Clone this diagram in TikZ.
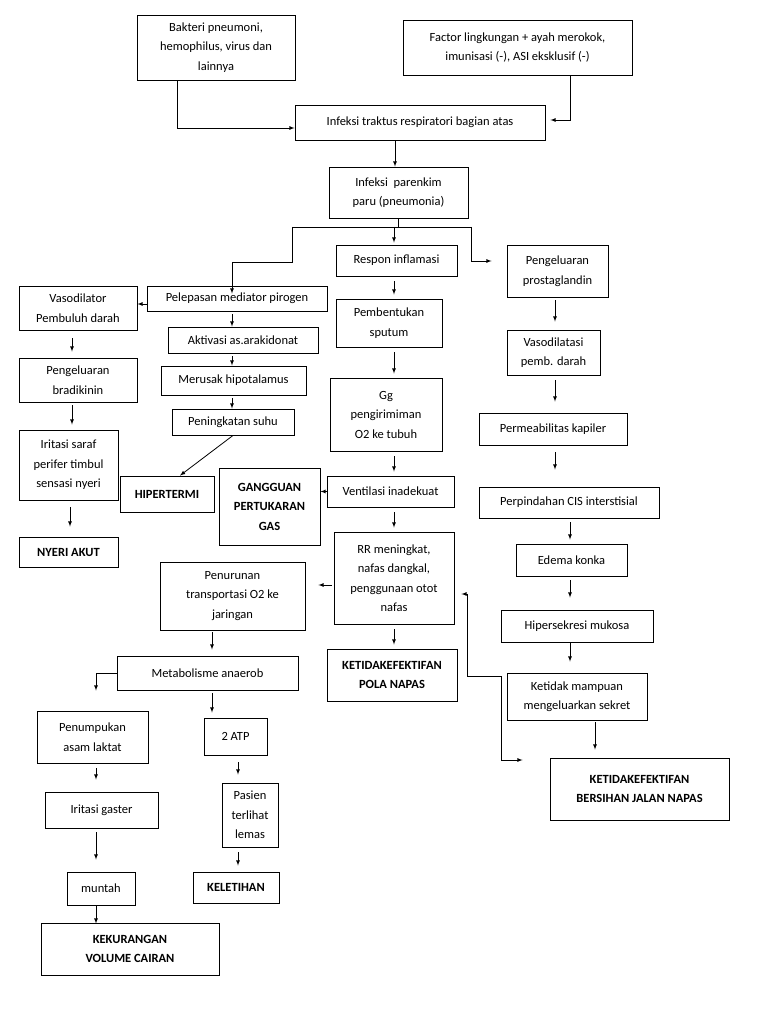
\documentclass[tikz,border=0pt]{standalone}
\usepackage{fontspec}
\setmainfont{Carlito}
\begin{document}
\begin{tikzpicture}[x=1pt,y=-1pt,
  box/.style={draw,line width=0.9pt,align=center,inner sep=1pt,font=\fontsize{12.5}{19.5}\selectfont},
  bb/.style={box,font=\bfseries\fontsize{12.5}{19.5}\selectfont},
  arr/.style={-latex,line width=0.8pt},
  ln/.style={line width=0.8pt}]
\useasboundingbox (0,0) rectangle (768,1024);
\newcommand\bx[7][box]{\node[#1,minimum width={#5pt-#3pt},minimum height={#6pt-#4pt}] (#2) at ({(#3+#5)/2},{(#4+#6)/2}) {#7};}
\bx{bak}{137}{15}{295}{80}{Bakteri pneumoni,\\hemophilus, virus dan\\lainnya}
\bx{fac}{403}{20}{632}{75}{Factor lingkungan + ayah merokok,\\imunisasi (-), ASI eksklusif (-)}
\bx{inf}{295}{105}{545}{140}{Infeksi traktus respiratori bagian atas}
\bx{par}{329}{167}{468}{218}{Infeksi\ \ parenkim\\paru (pneumonia)}
\bx{res}{336}{245}{457}{276}{Respon inflamasi}
\bx{pro}{507}{245}{608}{297}{Pengeluaran\\prostaglandin}
\bx{pel}{147}{286}{327}{311}{Pelepasan mediator pirogen}
\bx{vas}{19}{286}{137}{330}{Vasodilator\\Pembuluh darah}
\bx{akt}{168}{327}{318}{353}{Aktivasi as.arakidonat}
\bx{mer}{161}{366}{306}{395}{Merusak hipotalamus}
\bx{pen}{172}{409}{294}{435}{Peningkatan suhu}
\bx{pem}{336}{299}{442}{347}{Pembentukan\\sputum}
\bx{gg}{330}{378}{442}{451}{Gg\\pengirimiman\\O2 ke tubuh}
\bx{vdt}{507}{330}{600}{375}{Vasodilatasi\\pemb. darah}
\bx{per}{479}{413}{627}{445}{Permeabilitas kapiler}
\bx{bra}{19}{358}{137}{402}{Pengeluaran\\bradikinin}
\bx{iri}{19}{430}{118}{500}{Iritasi saraf\\perifer timbul\\sensasi nyeri}
\bx[bb]{hip}{120}{476}{214}{512}{HIPERTERMI}
\bx[bb]{gan}{219}{468}{320}{545}{GANGGUAN\\PERTUKARAN\\GAS}
\bx{ven}{327}{476}{454}{507}{Ventilasi inadekuat}
\bx{pin}{479}{487}{659}{518}{Perpindahan CIS interstisial}
\bx[bb]{nye}{19}{537}{118}{567}{NYERI AKUT}
\bx{rr}{334}{532}{454}{624}{RR meningkat,\\nafas dangkal,\\penggunaan otot\\nafas}
\bx{ede}{516}{544}{627}{576}{Edema konka}
\bx{pnr}{160}{562}{305}{630}{Penurunan\\transportasi O2 ke\\jaringan}
\bx{hps}{501}{610}{653}{642}{Hipersekresi mukosa}
\bx[bb]{pol}{327}{649}{457}{701}{KETIDAKEFEKTIFAN\\POLA NAPAS}
\bx{ktm}{507}{673}{647}{720}{Ketidak mampuan\\mengeluarkan sekret}
\bx{met}{117}{656}{298}{690}{Metabolisme anaerob}
\bx[bb]{ber}{550}{758}{729}{820}{KETIDAKEFEKTIFAN\\BERSIHAN JALAN NAPAS}
\bx{pnm}{37}{711}{148}{763}{Penumpukan\\asam laktat}
\bx{atp}{204}{718}{267}{755}{2 ATP}
\bx{gas}{45}{792}{158}{828}{Iritasi gaster}
\bx{pas}{222}{783}{278}{847}{Pasien\\terlihat\\lemas}
\bx{mun}{67}{872}{135}{905}{muntah}
\bx[bb]{kel}{193}{872}{279}{903}{KELETIHAN}
\bx[bb]{kek}{41}{923}{219}{975}{KEKURANGAN\\VOLUME CAIRAN}
% top
\draw[arr] (bak.south -| 177,0) |- (inf.west |- 0,128);
\draw[arr] (fac.south -| 570,0) |- ([xshift=5pt]inf.east |- 0,120);
\draw[arr] (inf.south -| 395,0) -- (par.north -| 395,0);
\coordinate (sp) at (398,227);
\draw[ln] (par.south -| 398,0) -- (sp);
\draw[arr] (292,227) -- (292,262) -| ([yshift=-8pt]pel.north -| 232,0);
\draw[ln] (292,227) -- (471,227);
\draw[arr,shorten >=2pt] (394,227) -- (res.north -| 394,0);
\draw[arr] (471,227) |- ([xshift=-15pt]pro.west |- 0,261);
% centre column
\foreach \a/\b in {res/pem,pem/gg,gg/ven,ven/rr,rr/pol}
  \draw[arr,shorten <=5pt,shorten >=4pt] (\a.south -| 394,0) -- (\b.north -| 394,0);
\draw[arr] (ven.west) -- (gan.east |- ven.west);
\draw[arr,shorten <=2pt,shorten >=13pt] (rr.west |- 0,585) -- (pnr.east |- 0,585);
% left pirogen chain
\draw[arr] (pel.west |- 0,304) -- (vas.east |- 0,304);
\foreach \a/\b in {pel/akt,akt/mer,mer/pen}
  \draw[arr,shorten <=3pt] (\a.south -| 232,0) -- (\b.north -| 232,0);
\draw[arr] (pen.south) -- (hip.north -| 180,0);
\draw[arr,shorten <=8pt,shorten >=6pt] (vas.south -| 72,0) -- (bra.north -| 72,0);
\draw[arr,shorten <=3pt,shorten >=5pt] (bra.south -| 72,0) -- (iri.north -| 72,0);
\draw[arr,shorten <=7pt,shorten >=10pt] (iri.south -| 70,0) -- (nye.north -| 70,0);
% right chain
\draw[arr,shorten <=3pt,shorten >=8pt] (pro.south -| 555,0) -- (vdt.north -| 555,0);
\draw[arr,shorten <=5pt,shorten >=11pt] (vdt.south -| 555,0) -- (per.north -| 555,0);
\draw[arr,shorten <=7pt,shorten >=17pt] (per.south -| 555,0) -- (pin.north -| 555,0);
\draw[arr,shorten <=4pt,shorten >=4pt] (pin.south -| 570,0) -- (ede.north -| 570,0);
\draw[arr,shorten <=4pt,shorten >=12pt] (ede.south -| 570,0) -- (hps.north -| 570,0);
\draw[arr,shorten <=1pt,shorten >=11pt] (hps.south -| 570,0) -- (ktm.north -| 570,0);
\draw[arr,shorten <=2pt,shorten >=8pt] (ktm.south -| 595,0) -- (ber.north -| 595,0);
\coordinate (b1) at (467,676);
\coordinate (b2) at (501,676);
\draw[latex-latex,line width=0.8pt,shorten <=7pt,shorten >=27pt] (rr.east |- 0,594) -| (b1) -- (b2) |- (ber.west |- 0,760);
% bottom left
\draw[arr,shorten <=2pt,shorten >=6pt] (pnr.south -| 212,0) -- (met.north -| 212,0);
\draw[arr,shorten >=20pt] (met.west |- 0,673) -| (pnm.north -| 96,0);
\draw[arr,shorten <=3pt,shorten >=5pt] (met.south -| 212,0) -- (atp.north -| 212,0);
\draw[arr,shorten <=5pt,shorten >=12pt] (pnm.south -| 96,0) -- (gas.north -| 96,0);
\draw[arr,shorten <=4pt,shorten >=12pt] (gas.south -| 96,0) -- (mun.north -| 96,0);
\draw[arr,shorten >=-1pt] (mun.south -| 96,0) -- (kek.north -| 96,0);
\draw[arr,shorten <=7pt,shorten >=8pt] (atp.south -| 238,0) -- (pas.north -| 238,0);
\draw[arr,shorten <=5pt,shorten >=6pt] (pas.south -| 238,0) -- (kel.north -| 238,0);
\end{tikzpicture}
\end{document}
